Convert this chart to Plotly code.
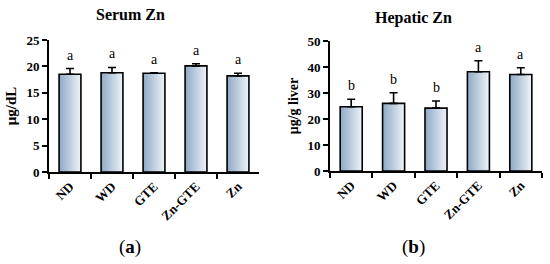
import plotly.graph_objects as go

groups = ["ND", "WD", "GTE", "Zn-GTE", "Zn"]

serum_mean = [18.5, 18.8, 18.7, 20.1, 18.2]
serum_err = [1.1, 1.0, 0.1, 0.4, 0.5]
serum_letters = ["a", "a", "a", "a", "a"]

hepatic_mean = [24.7, 26.0, 24.2, 38.2, 37.1]
hepatic_err = [2.9, 4.1, 2.7, 4.2, 2.6]
hepatic_letters = ["b", "b", "b", "a", "a"]

SERIF = "Liberation Serif"
N_SLICES = 12
BAR_W = 0.52
c_left = (146, 173, 199)
c_right = (234, 240, 246)

fig = go.Figure()


def add_panel(means, errs, letters, xa, ya):
    step = BAR_W / N_SLICES
    for i in range(N_SLICES):
        t = i / (N_SLICES - 1)
        col = tuple(round(c_left[k] + (c_right[k] - c_left[k]) * t) for k in range(3))
        fig.add_trace(go.Bar(
            x=groups, y=means, xaxis=xa, yaxis=ya,
            width=BAR_W - i * step, offset=-BAR_W / 2 + i * step,
            marker=dict(color="rgb(%d,%d,%d)" % col, line=dict(width=0)),
            showlegend=False, hoverinfo="skip",
        ))
    fig.add_trace(go.Bar(
        x=groups, y=means, xaxis=xa, yaxis=ya,
        width=BAR_W, offset=-BAR_W / 2,
        marker=dict(color="rgba(0,0,0,0)", line=dict(color="black", width=1.6)),
        error_y=dict(type="data", array=errs, arrayminus=[0] * len(errs),
                     symmetric=False, color="black", thickness=1.6, width=4),
        showlegend=False,
    ))
    for g, m, e, l in zip(groups, means, errs, letters):
        fig.add_annotation(x=g, y=m + e, xref=xa, yref=ya, text=l,
                           showarrow=False, yanchor="bottom", yshift=4,
                           font=dict(family=SERIF, size=14, color="black"))


add_panel(serum_mean, serum_err, serum_letters, "x", "y")
add_panel(hepatic_mean, hepatic_err, hepatic_letters, "x2", "y2")

xcommon = dict(type="category", showline=True, linecolor="black", linewidth=1.6,
               ticks="outside", tickson="boundaries", ticklen=5, tickwidth=1.5,
               tickcolor="black", tickangle=-45, range=[-0.5, 4.5], automargin=False,
               tickfont=dict(family=SERIF, size=13, color="black", weight="bold"),
               showgrid=False, zeroline=False)
ycommon = dict(showline=True, linecolor="black", linewidth=1.6, automargin=False,
               ticks="outside", ticklen=5, tickwidth=1.5, tickcolor="black",
               tickfont=dict(family=SERIF, size=13, color="black", weight="bold"),
               showgrid=False, zeroline=False)

fig.update_layout(
    width=550, height=264,
    margin=dict(l=0, r=0, t=0, b=0, autoexpand=False),
    paper_bgcolor="white", plot_bgcolor="white",
    barmode="overlay",
    xaxis=dict(domain=[49 / 550, 259 / 550], anchor="y", **xcommon),
    yaxis=dict(domain=[1 - 172 / 264, 1 - 40 / 264], anchor="x", range=[0, 25],
               dtick=5, title=dict(text="<b>μg/dL</b>", standoff=6,
                                   font=dict(family=SERIF, size=15, color="black")),
               **ycommon),
    xaxis2=dict(domain=[330 / 550, 542 / 550], anchor="y2", **xcommon),
    yaxis2=dict(domain=[1 - 171 / 264, 1 - 41 / 264], anchor="x2", range=[0, 50],
                dtick=10, title=dict(text="<b>μg/g liver</b>", standoff=6,
                                     font=dict(family=SERIF, size=14, color="black")),
                **ycommon),
)

fig.add_annotation(text="<b>Serum Zn</b>", x=130 / 550, y=1 - 15 / 264, xref="paper",
                   yref="paper", showarrow=False, xanchor="center", yanchor="middle",
                   font=dict(family=SERIF, size=16, color="black"))
fig.add_annotation(text="<b>Hepatic Zn</b>", x=413 / 550, y=1 - 18 / 264, xref="paper",
                   yref="paper", showarrow=False, xanchor="center", yanchor="middle",
                   font=dict(family=SERIF, size=16, color="black"))
fig.add_annotation(text="(<b>a</b>)", x=130 / 550, y=1 - 247 / 264, xref="paper",
                   yref="paper", showarrow=False, xanchor="center", yanchor="middle",
                   font=dict(family=SERIF, size=19, color="black"))
fig.add_annotation(text="(<b>b</b>)", x=413 / 550, y=1 - 247 / 264, xref="paper",
                   yref="paper", showarrow=False, xanchor="center", yanchor="middle",
                   font=dict(family=SERIF, size=19, color="black"))

fig.write_html("out.html", config={"displayModeBar": False},
               post_script="document.body.style.margin='0';document.body.style.overflow='hidden';")
